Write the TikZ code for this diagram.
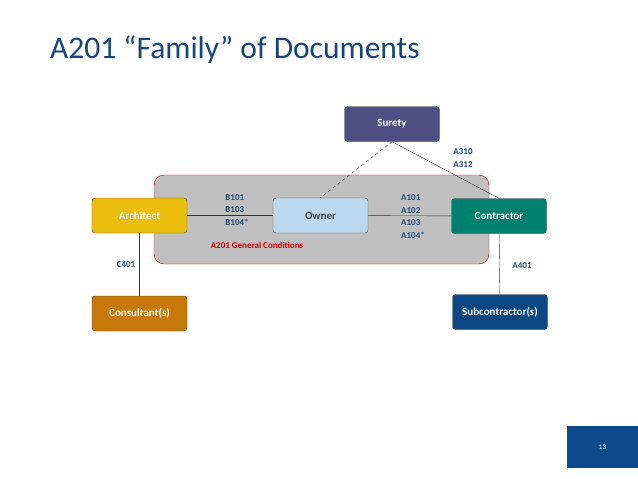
\documentclass[tikz,border=0pt]{standalone}
\usepackage{fontspec}
\setmainfont{Carlito}
\usetikzlibrary{positioning}
\definecolor{titleblue}{HTML}{17457A}
\definecolor{labelblue}{HTML}{1F4E79}
\definecolor{suretyc}{HTML}{4F4F84}
\definecolor{archc}{HTML}{EBBD0C}
\definecolor{ownerc}{HTML}{BCD8EE}
\definecolor{contrc}{HTML}{00806E}
\definecolor{consc}{HTML}{C6780A}
\definecolor{subc}{HTML}{0C4683}
\definecolor{pagec}{HTML}{0C4A8C}
\tikzset{
  party/.style={rectangle, rounded corners=3pt, draw=black!70, thin, text=white,
                font=\bfseries\fontsize{11}{12}\selectfont, minimum width=95pt, minimum height=35pt},
  doc/.style={font=\bfseries\fontsize{9}{12.5}\selectfont, text=labelblue, align=left},
  link/.style={draw=black!80, thin},
}
\begin{document}
\begin{tikzpicture}[x=1pt, y=-1pt]
    \useasboundingbox (0,0) rectangle (638,479);

    % Title
    \node[anchor=base west, text=titleblue, font=\fontsize{31.5}{34}\selectfont, inner sep=0pt] (title) at (50,58) {A201 “Family” of Documents};

    % General conditions area
    \node[rectangle, rounded corners=10pt, draw=red!80!black, fill=black!25, minimum width=335pt, minimum height=89pt] (gc) at (321.5,219.5) {};

    % Parties
    \node[party, fill=suretyc] (surety) at (392,124) {Surety};
    \node[party, fill=archc] (architect) at (139.5,215.5) {Architect};
    \node[party, fill=ownerc, text=black!75] (owner) at (320.5,215.5) {Owner};
    \node[party, fill=contrc] (contractor) at (499,216) {Contractor};
    \node[party, fill=consc] (consultant) at (139.5,313.5) {Consultant(s)};
    \node[party, fill=subc] (sub) at (500,312) {Subcontractor(s)};

    % Connectors
    \draw[link] (architect) -- (owner);
    \draw[link] (owner) -- (contractor);
    \draw[link, dashed] (surety.south) -- (owner.north);
    \draw[link] (surety.south) -- (contractor.north);
    \draw[link] (architect) -- (consultant);
    \draw[link] (contractor) -- (sub);

    % Document labels
    \node[doc] (blabel) at (237,210) {B101\\B103\\B104*};
    \node[doc] (alabel) at (413,216.5) {A101\\A102\\A103\\A104*};
    \node[doc] (slabel) at (463,158) {A310\\A312};
    \node[doc] (clabel) at (126,265) {C401};
    \node[doc] (sublabel) at (522,266) {A401};
    \node[doc, text=red!85!black] (gclabel) at (257,245) {A201 General Conditions};

    % Page number
    \node[rectangle, fill=pagec, minimum width=71pt, minimum height=42pt, text=white, font=\fontsize{7}{8}\selectfont] (page) at (602.5,447) {13};
\end{tikzpicture}
\end{document}
